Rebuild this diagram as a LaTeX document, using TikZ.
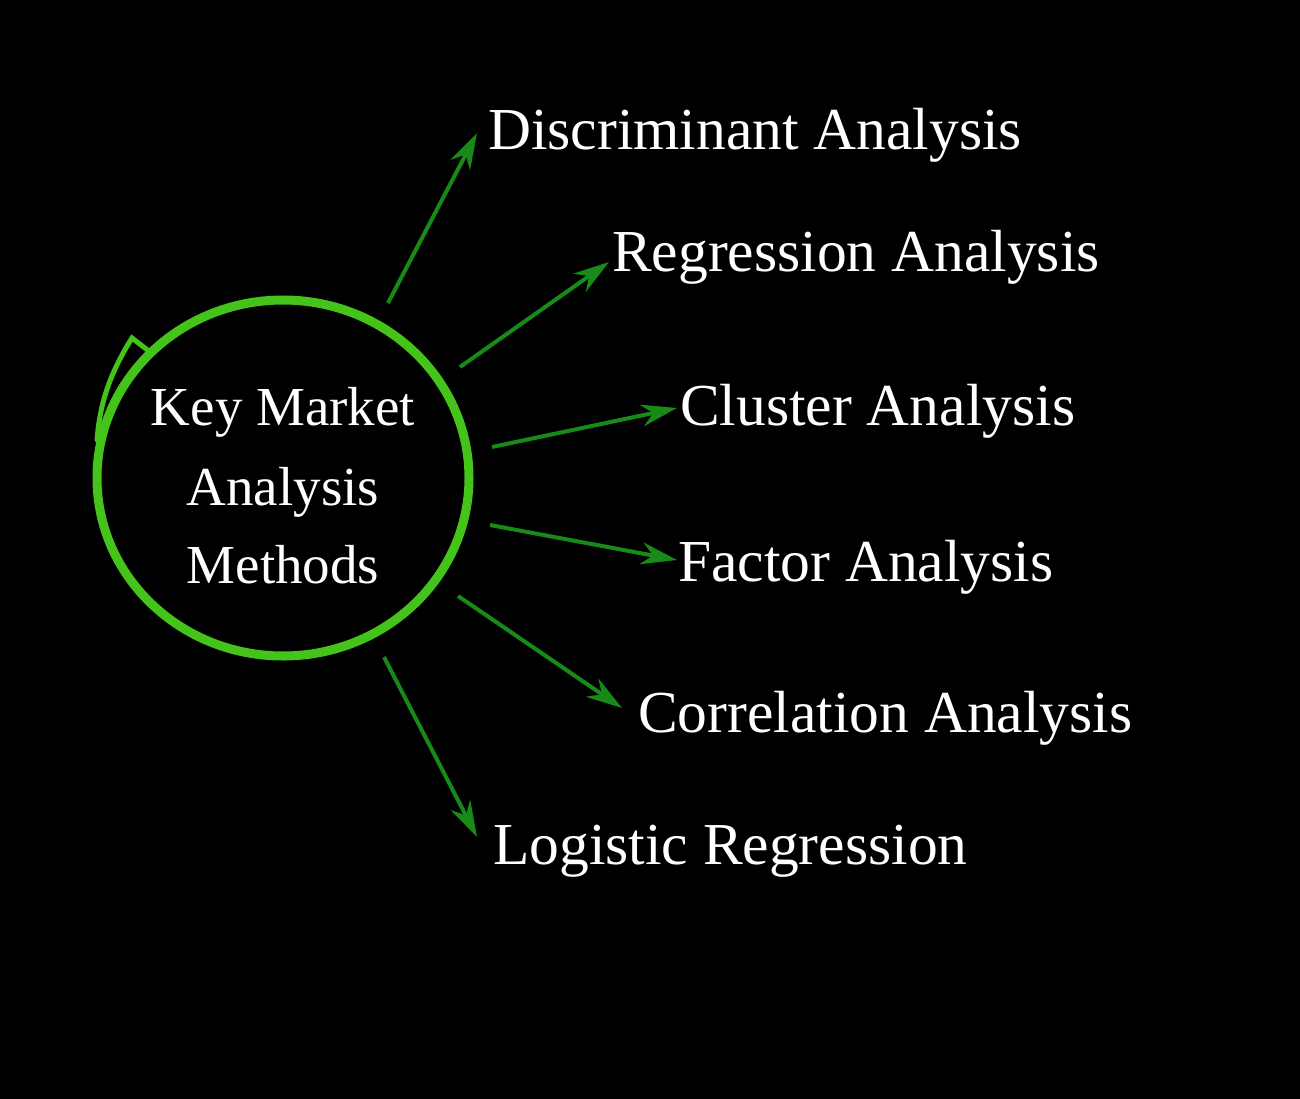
\documentclass[tikz,border=0pt]{standalone}
\usepackage{fontspec}
\setmainfont{Liberation Serif}
\usetikzlibrary{arrows.meta}
\definecolor{ringgreen}{HTML}{44C41A}
\definecolor{arrgreen}{HTML}{178A17}
\tikzset{
  lbl/.style={anchor=base west, text=white, inner sep=0pt, font=\fontsize{59.5}{64}\selectfont},
  ctr/.style={anchor=base, text=white, inner sep=0pt, font=\fontsize{55}{60}\selectfont},
  arr/.style={draw=arrgreen, line width=4pt, -{Stealth[length=36pt,width=22pt]}}
}
\begin{document}
\begin{tikzpicture}[x=1pt,y=-1pt]
\fill[black] (0,0) rectangle (1300,1099);
\useasboundingbox (0,0) rectangle (1300,1099);
% ring
\draw[ringgreen, line width=9pt, line cap=round] (283,478) ellipse [x radius=186, y radius=178];
\draw[ringgreen, line width=5pt, line cap=round] (150,352) -- (132,338) .. controls (112,370) and (100,400) .. (97,440);
% centre text
\node[ctr] (c1) at (283,425) {Key Market};
\node[ctr] (c2) at (283,505) {Analysis};
\node[ctr] (c3) at (283,583) {Methods};
% labels
\node[lbl] (t1) at (488,150) {Discriminant Analysis};
\node[lbl] (t2) at (612,272) {Regression Analysis};
\node[lbl] (t3) at (680,425) {Cluster Analysis};
\node[lbl] (t4) at (678,581) {Factor Analysis};
\node[lbl] (t5) at (638,732) {Correlation Analysis};
\node[lbl] (t6) at (493,864) {Logistic Regression};
% arrows
\coordinate (s1) at (388,303); \coordinate (e1) at (477,133);
\coordinate (s2) at (460,367); \coordinate (e2) at (609,262);
\coordinate (s3) at (492,447); \coordinate (e3) at (677,408);
\coordinate (s4) at (490,525); \coordinate (e4) at (677,560);
\coordinate (s5) at (458,596); \coordinate (e5) at (622,708);
\coordinate (s6) at (384,657); \coordinate (e6) at (477,837);
\foreach \i in {1,...,6} {\draw[arr] (s\i) -- (e\i);}
\end{tikzpicture}
\end{document}
